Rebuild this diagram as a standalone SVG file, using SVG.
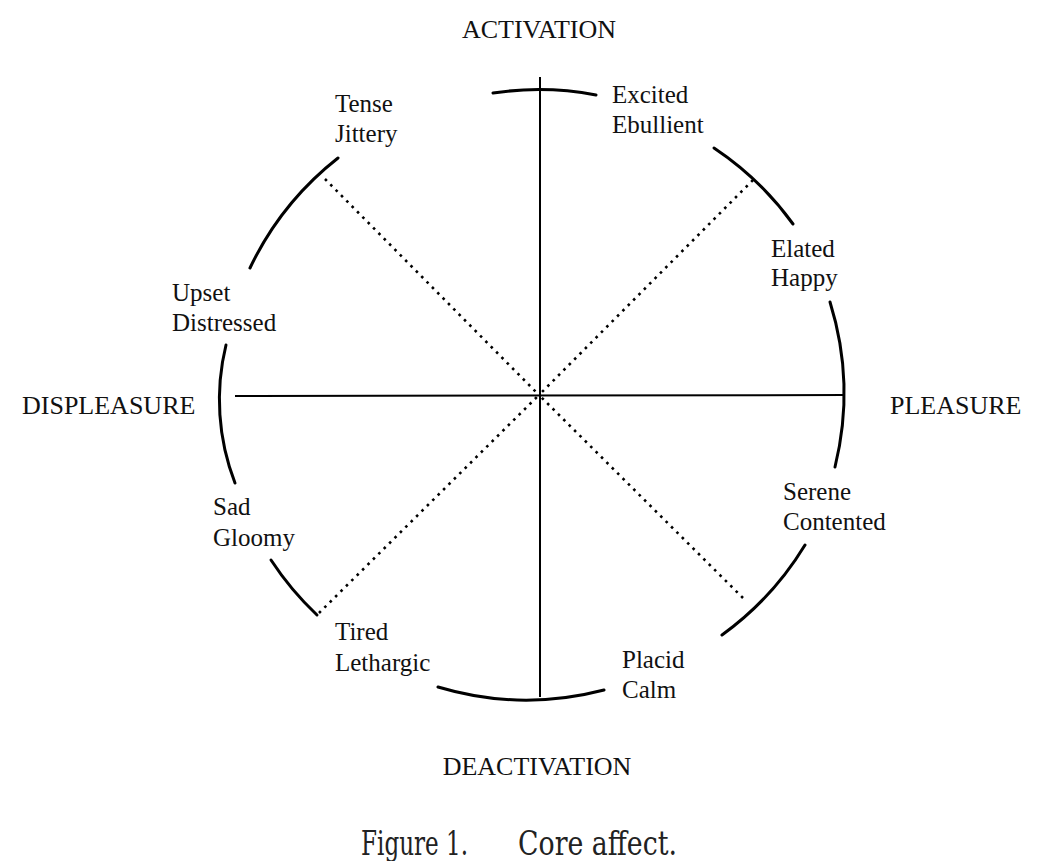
<svg xmlns="http://www.w3.org/2000/svg" width="1038" height="861" viewBox="0 0 1038 861">
<style>
.lbl{font-family:"Liberation Serif","Times New Roman",serif;font-size:25px;fill:#111}
.axl{font-family:"Liberation Serif","Times New Roman",serif;font-size:26px;fill:#111}
.cap{font-family:"DejaVu Serif","Liberation Serif",serif;font-size:34px;fill:#222}
.arc{fill:none;stroke:#000;stroke-width:3;stroke-linecap:round}
.axis{fill:none;stroke:#000;stroke-width:2}
.dot{fill:none;stroke:#000;stroke-width:2.6;stroke-dasharray:2.6 5}
</style>
<rect width="1038" height="861" fill="#fff"/>
<g id="connectors">
<path class="axis" d="M235 396 L845 395"/>
<path class="axis" d="M540 77 L540 697" stroke-width="1.6"/>
<path class="dot" d="M325 179 L539 395"/>
<path class="dot" d="M753 180 L539 395"/>
<path class="dot" d="M743 598 L539 395"/>
<path class="dot" d="M319 613 L539 395"/>
</g>
<g id="circle">
<path class="arc" d="M493 93 A308 308 0 0 1 596 95"/>
<path class="arc" d="M714 148 A308 308 0 0 1 793 224"/>
<path class="arc" d="M830 302 A308 308 0 0 1 835 467"/>
<path class="arc" d="M805 545 A308 308 0 0 1 722 635"/>
<path class="arc" d="M604 690 A308 308 0 0 1 438 687"/>
<path class="arc" d="M317 615 A308 308 0 0 1 271 560"/>
<path class="arc" d="M235 483 A230 230 0 0 1 226 345"/>
<path class="arc" d="M250 268 A308 308 0 0 1 338 158"/>
</g>
<g id="axis-labels">
<text class="axl" x="539" y="38" text-anchor="middle">ACTIVATION</text>
<text class="axl" x="537" y="775" text-anchor="middle">DEACTIVATION</text>
<text class="axl" x="22" y="414">DISPLEASURE</text>
<text class="axl" x="890" y="414">PLEASURE</text>
</g>
<g id="node-tense"><text class="lbl" x="335" y="112">Tense</text><text class="lbl" x="335" y="142">Jittery</text></g>
<g id="node-excited"><text class="lbl" x="612" y="103">Excited</text><text class="lbl" x="612" y="133">Ebullient</text></g>
<g id="node-elated"><text class="lbl" x="771" y="257">Elated</text><text class="lbl" x="771" y="286">Happy</text></g>
<g id="node-upset"><text class="lbl" x="172" y="301">Upset</text><text class="lbl" x="172" y="331">Distressed</text></g>
<g id="node-serene"><text class="lbl" x="783" y="500">Serene</text><text class="lbl" x="783" y="530">Contented</text></g>
<g id="node-sad"><text class="lbl" x="213" y="515">Sad</text><text class="lbl" x="213" y="546">Gloomy</text></g>
<g id="node-tired"><text class="lbl" x="335" y="640">Tired</text><text class="lbl" x="335" y="671">Lethargic</text></g>
<g id="node-placid"><text class="lbl" x="622" y="668">Placid</text><text class="lbl" x="622" y="698">Calm</text></g>
<g id="caption">
<text class="cap" x="361" y="855" textLength="107" lengthAdjust="spacingAndGlyphs">Figure 1.</text>
<text class="cap" x="518" y="855" textLength="159" lengthAdjust="spacingAndGlyphs">Core affect.</text>
</g>
</svg>
